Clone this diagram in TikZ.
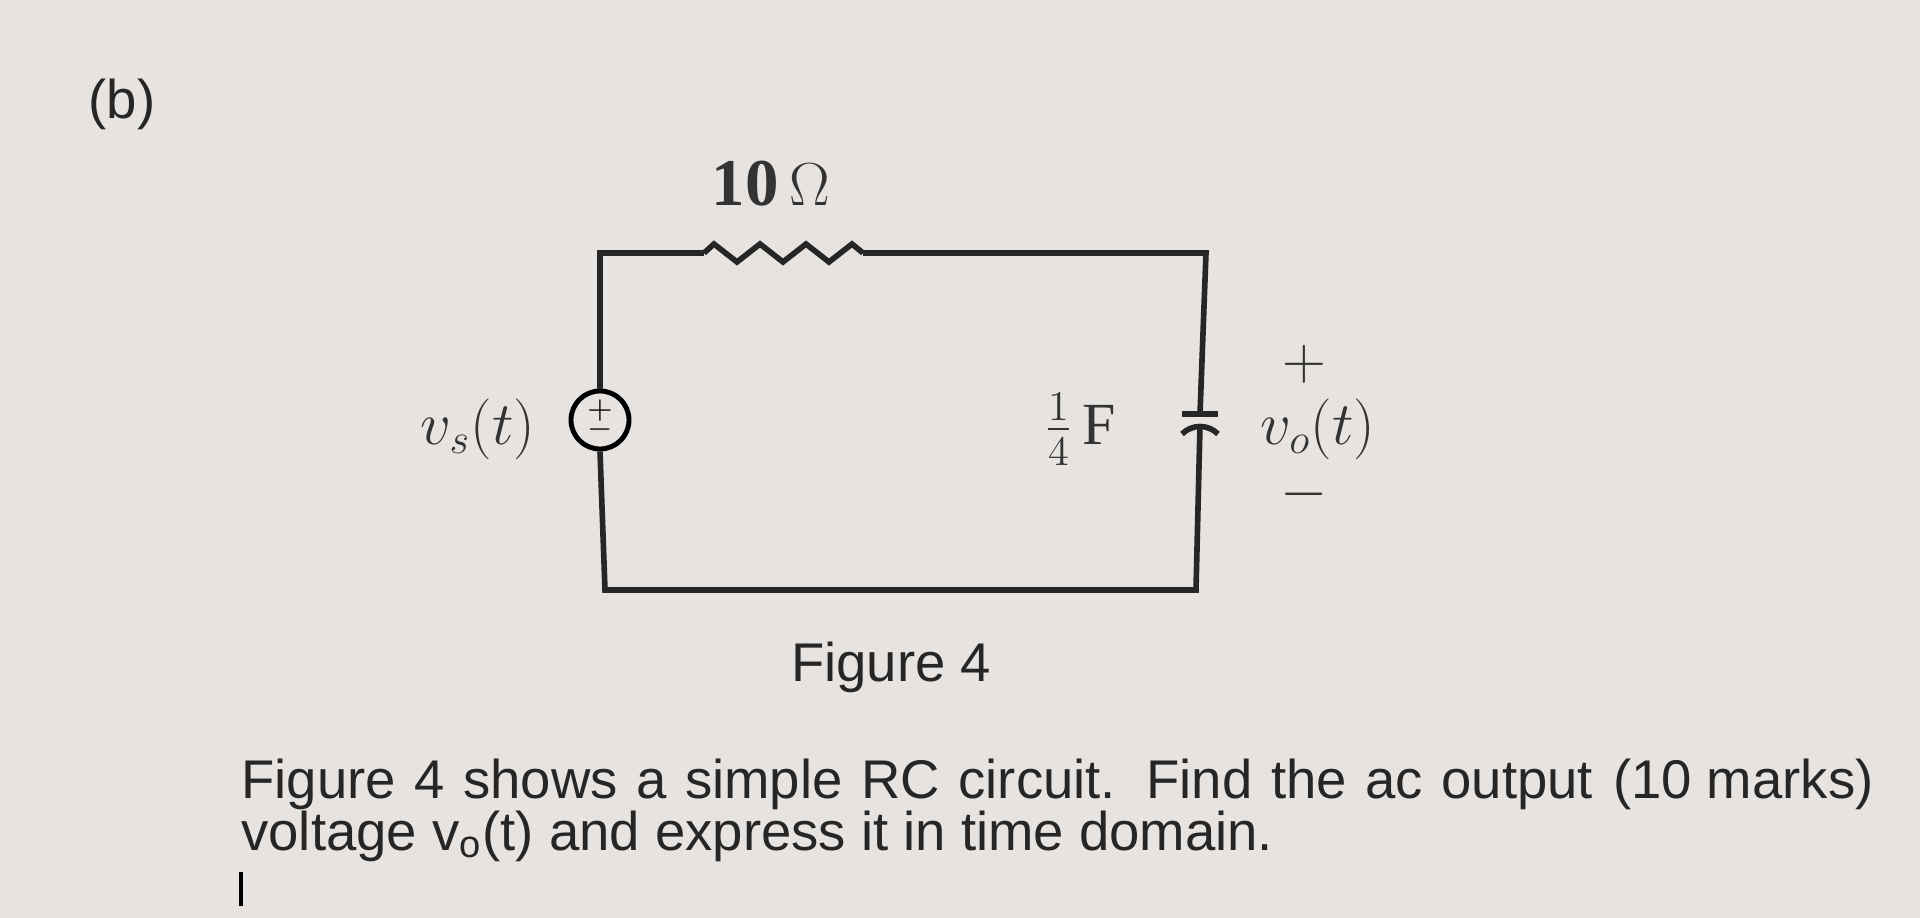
\documentclass[tikz,border=0pt]{standalone}
\usepackage{fontspec}
\setmainfont{Liberation Sans}
\newfontfamily\serif{Liberation Serif}
\begin{document}
\begin{tikzpicture}[x=0.01cm,y=-0.01cm,
  wire/.style={line width=1.6pt,black!85},
  lab/.style={font=\serif\fontsize{17}{20}\selectfont,text=black!80},
  txt/.style={font=\fontsize{15.5}{18}\selectfont,text=black!85}]
\fill[gray!18!white!95!brown] (0,0) rectangle (1920,918);
\useasboundingbox (0,0) rectangle (1920,918);
\node[txt] (b) at (122,104) {(b)};
\coordinate (tl) at (600,253); \coordinate (tr) at (1206,253);
\coordinate (bl) at (605,590); \coordinate (br) at (1196,590);
\coordinate (r1) at (704,253); \coordinate (r2) at (863,253);
% source
\node[circle,draw,line width=1.4pt,minimum size=0.58cm,inner sep=0] (vs) at (600,420) {};
\node[font=\fontsize{9}{9}\selectfont,inner sep=0] (sp) at (600,411) {$+$};
\node[font=\fontsize{9}{9}\selectfont,inner sep=0] (sm) at (600,430) {$-$};
% capacitor
\coordinate (ct) at (1200,414); \coordinate (cb) at (1200,426);
\draw[wire] (vs.north) -- (tl) -- (r1);
\draw[wire] (r1) -- ++(10,-9) -- ++(23,18) -- ++(23,-18) -- ++(23,18) -- ++(23,-18) -- ++(23,18) -- ++(23,-18) -- ++(11,9) -- (r2);
\draw[wire] (r2) -- (tr) -- (ct);
\draw[wire] (1182,414) -- (1218,414);
\draw[wire] (1182,434) .. controls (1192,424) and (1208,424) .. (1218,434);
\draw[wire] (1200,426) -- (br) -- (bl) -- (vs.south);
% labels
\node[lab,font=\serif\bfseries\fontsize{19}{22}\selectfont] (rl) at (771,184) {10\,$\Omega$};
\node[lab] (vsl) at (478,429) {$v_s(t)$};
\node[lab] (cl) at (1080,429) {$\textstyle\frac{1}{4}$\,F};
\node[lab] (p) at (1304,364) {$+$};
\node[lab] (vo) at (1318,429) {$v_o(t)$};
\node[lab] (m) at (1304,494) {$-$};
\node[txt] (fig) at (891,667) {Figure 4};
\node[txt,anchor=west] (l1) at (229,784) {\makebox[13.51cm][s]{Figure 4 shows a simple RC circuit. Find the ac output}};
\node[txt,anchor=east] (mk) at (1886,784) {(10 marks)};
\node[txt,anchor=west] (l2) at (229,836) {voltage v\textsubscript{o}(t) and express it in time domain.};
\draw[line width=1.2pt] (241,872) -- (241,906);
\end{tikzpicture}
\end{document}
